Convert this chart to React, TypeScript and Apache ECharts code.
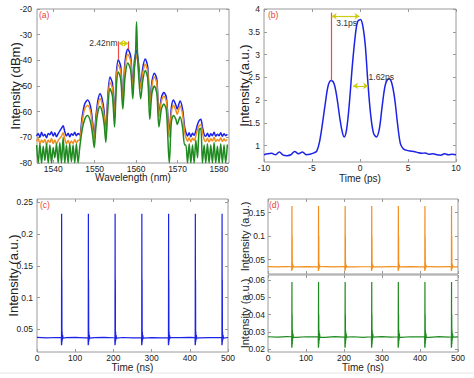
import React, { useEffect, useRef } from 'react';
import * as echarts from 'echarts';

// ---------- Panel (a): optical spectrum ----------
const wlLeft = [1536.0, 1536.4, 1536.8, 1537.2, 1537.6, 1538.0, 1538.4, 1538.8, 1539.2, 1539.6, 1540.0, 1540.4, 1540.8, 1541.2, 1541.6, 1542.0, 1542.4, 1542.8, 1543.2, 1543.6, 1544.0, 1544.4, 1544.8, 1545.2, 1545.6, 1546.0];
const blueLeft = [-69.5, -68.5, -70, -68, -69.5, -68.8, -70.2, -68.5, -69, -67.8, -69.5, -68.2, -69.8, -68.6, -67.5, -66.5, -65.5, -67.8, -69.5, -68.4, -69.8, -68.6, -69.2, -68, -69.4, -68.5];
const orangeLeft = [-71.5, -70.5, -72.5, -71, -72, -70.8, -73, -71, -72, -70.5, -72.4, -71, -72.6, -71.2, -70.4, -69.5, -68.2, -70.6, -72.4, -71.2, -72.6, -71.4, -72.4, -70.8, -72.2, -71.2];
const greenLeft = [-73, -80, -72.5, -80, -73.5, -79, -72.5, -80, -73, -80, -74, -78, -72.5, -80, -72, -80, -70, -80, -73, -80, -72.5, -79.5, -73, -80, -72.5, -80];

const wlMid = [1546.4, 1547.0, 1547.6, 1548.3, 1549.0, 1549.5, 1549.9, 1550.3, 1550.8, 1551.3, 1551.8, 1552.3, 1552.7, 1553.1, 1553.7, 1554.3, 1554.8, 1555.2, 1555.7, 1556.3, 1556.8, 1557.3, 1558.0, 1558.7, 1559.2, 1559.55, 1559.85, 1560.1, 1560.35, 1560.7, 1561.1, 1561.6, 1562.2, 1562.8, 1563.3, 1563.8, 1564.4, 1565.0, 1565.5, 1566.1, 1566.7, 1567.3, 1568.0, 1568.5, 1569.0, 1569.6, 1569.9, 1570.6, 1571.2, 1571.7];
const blueMid = [-69, -62, -57, -55.5, -58, -64, -70, -62, -55.5, -53, -55, -60, -69, -56, -46.5, -49, -62, -46, -39.8, -42.5, -56, -41, -35.6, -38.5, -51, -41, -37.5, -36, -38, -43, -50, -43, -39.5, -42.5, -57, -48.5, -45, -47.5, -61, -54.5, -52.5, -54.5, -68, -58.5, -55.5, -57.5, -59, -55.8, -59, -66];
const orangeMid = [-71, -64, -59, -57.5, -60, -66, -71, -64, -57.5, -55, -57, -62, -70, -58, -48.5, -51, -63, -48, -41.8, -44.5, -57, -43, -37.6, -40.5, -52, -43, -39.5, -38, -40, -45, -51, -45, -41.5, -44.5, -58, -50, -46.5, -49, -62, -56, -54, -56, -70, -60.5, -57.5, -59.5, -61, -57.8, -61, -68];
const greenMid = [-74, -67, -63, -61.5, -64, -69, -74, -66, -60, -58, -60, -65, -72, -61, -51, -54, -66, -51, -44.5, -47.5, -59, -47, -41, -44, -55, -44, -38, -25, -38, -48, -55, -48, -44, -47, -63, -53, -50, -53, -66, -59, -57, -59.5, -80, -64, -61.5, -63, -65, -62, -66, -73];

const wlRight = [1572.0, 1572.4, 1572.8, 1573.2, 1573.6, 1574.0, 1574.4, 1574.8, 1575.2, 1575.6, 1576.0, 1576.4, 1576.8, 1577.2, 1577.6, 1578.0, 1578.4, 1578.8, 1579.2, 1579.6, 1580.0, 1580.4, 1580.8, 1581.2, 1581.6, 1582.0];
const blueRight = [-68, -69.5, -68.2, -69.8, -68.4, -69.2, -67.5, -65, -63.5, -63, -66, -68.8, -69.6, -68.4, -69.8, -68.6, -69.4, -68, -69.6, -68.8, -69.4, -68.2, -69.6, -68.6, -69.4, -68.8];
const orangeRight = [-70, -71.5, -70.2, -71.8, -70.4, -71.2, -69.5, -67, -65.5, -65, -68, -70.8, -71.6, -70.4, -71.8, -70.6, -71.4, -70, -71.6, -70.8, -71.4, -70.2, -71.6, -70.6, -71.4, -70.8];
const greenRight = [-73, -80, -72.5, -80, -73, -80, -71, -78, -67, -66.5, -80, -73, -80, -72.5, -80, -73, -80, -72, -80, -73.5, -80, -72.5, -80, -73, -80, -72.8];

const ticksAx = [1540, 1550, 1560, 1570, 1580];
const ticksAy = [-80, -70, -60, -50, -40, -30, -20];

// ---------- Panel (b): autocorrelation ----------
const tB = [-10, -9.6, -9.2, -8.8, -8.4, -8, -7.6, -7.2, -6.8, -6.4, -6, -5.6, -5.2, -4.8, -4.5, -4.2, -3.9, -3.6, -3.3, -3.0, -2.7, -2.4, -2.1, -1.85, -1.65, -1.4, -1.1, -0.8, -0.5, -0.25, 0.05, 0.3, 0.55, 0.8, 1.1, 1.4, 1.7, 2.0, 2.3, 2.6, 2.85, 3.05, 3.3, 3.6, 3.9, 4.2, 4.5, 4.8, 5.2, 5.6, 6, 6.4, 6.8, 7.2, 7.6, 8, 8.4, 8.8, 9.2, 9.6, 10];
const yB = [0.80, 0.82, 0.83, 0.80, 0.86, 0.79, 0.78, 0.80, 0.87, 0.82, 0.86, 0.80, 0.81, 0.84, 0.88, 1.1, 1.5, 1.95, 2.33, 2.43, 2.36, 2.05, 1.6, 1.3, 1.19, 1.35, 1.95, 2.75, 3.4, 3.72, 3.77, 3.62, 3.2, 2.45, 1.7, 1.28, 1.19, 1.35, 1.85, 2.3, 2.45, 2.47, 2.38, 2.05, 1.5, 1.05, 0.93, 0.9, 0.88, 0.87, 0.85, 0.83, 0.84, 0.81, 0.82, 0.80, 0.79, 0.82, 0.80, 0.81, 0.80];
const ticksBx = [-10, -5, 0, 5, 10];
const ticksBy = [1, 1.5, 2, 2.5, 3, 3.5, 4];

// ---------- Panels (c), (d): pulse trains ----------
const pulseTimesC = [64.5, 134.5, 204.5, 274.5, 344.5, 414.5, 484.5];
const pulseTimesD = [63, 133, 203, 273, 343, 413, 483];
const pulseOffsets = [-0.8, -0.4, 0, 0.3, 0.6, 0.9, 1.3, 1.8, 2.6, 3.6];
const pulseC = [0.037, 0.025, 0.232, 0.026, 0.128, 0.030, 0.046, 0.033, 0.041, 0.036];
const pulseDOrange = [0.035, 0.026, 0.164, 0.028, 0.100, 0.030, 0.043, 0.032, 0.039, 0.035];
const pulseDGreen = [0.0272, 0.0208, 0.0589, 0.0215, 0.040, 0.023, 0.031, 0.025, 0.029, 0.0270];
const baseTimes = [0, 25, 50, 75, 100, 125, 150, 175, 200, 225, 250, 275, 300, 325, 350, 375, 400, 425, 450, 475, 500];
const baseC = [0.0372, 0.0366, 0.0371, 0.0368, 0.0374, 0.0365, 0.0370, 0.0373, 0.0367, 0.0371, 0.0366, 0.0372, 0.0369, 0.0365, 0.0371, 0.0368, 0.0373, 0.0366, 0.0370, 0.0368, 0.0371];
const baseDOrange = [0.0352, 0.0347, 0.0354, 0.0349, 0.0351, 0.0346, 0.0353, 0.0348, 0.0352, 0.0347, 0.0350, 0.0354, 0.0348, 0.0351, 0.0346, 0.0352, 0.0349, 0.0353, 0.0347, 0.0351, 0.0349];
const baseDGreen = [0.0272, 0.0270, 0.0273, 0.0269, 0.0272, 0.0271, 0.0268, 0.0273, 0.0270, 0.0272, 0.0269, 0.0271, 0.0273, 0.0270, 0.0268, 0.0272, 0.0271, 0.0269, 0.0273, 0.0270, 0.0271];
const ticksT = [0, 100, 200, 300, 400, 500];
const ticksCy = [0.05, 0.1, 0.15, 0.2, 0.25];
const ticksD1y = [0.05, 0.1, 0.15];
const ticksD2y = [0.02, 0.03, 0.04, 0.05, 0.06];

const FONT = '"Liberation Sans", Arial, Helvetica, sans-serif';
const FRAME = '#9a9a9a';
const TXT = '#222';
const RED = '#f04a4a';
const YEL = '#cccc10';
const BLUE = '#1c22e6';
const ORANGE = '#f28e1c';
const GREEN = '#1f8a1f';

const plain = (v: number) => String(v);

function pulseTrain(times: number[], shape: number[], base: number[]) {
  const pts: number[][] = [];
  times.forEach((t) => pulseOffsets.forEach((o, i) => pts.push([t + o, shape[i]])));
  baseTimes.forEach((t, i) => {
    if (!times.some((p) => t > p - 1.5 && t < p + 4.5)) pts.push([t, base[i]]);
  });
  pts.sort((a, b) => a[0] - b[0]);
  return pts;
}

const tickStyle = (ticks: number[] | null) => ({ show: true, inside: true, length: 3, ...(ticks ? { customValues: ticks } : {}), lineStyle: { color: FRAME } });

function mainX(gi: number, min: number, max: number, ticks: number[] | null, name: string, nameGap: number, showLabels = true, interval?: number) {
  return {
    type: 'value', gridIndex: gi, min, max, position: 'bottom',
    ...(interval ? { interval } : {}),
    axisLine: { show: false, onZero: false }, splitLine: { show: false },
    axisTick: tickStyle(ticks),
    axisLabel: { show: showLabels, ...(ticks ? { customValues: ticks } : {}), formatter: plain, fontSize: 8.5, color: TXT, margin: 1, fontFamily: FONT, hideOverlap: false, showMinLabel: true, showMaxLabel: true },
    name, nameLocation: 'middle', nameGap, nameMoveOverlap: false,
    nameTextStyle: { fontSize: 10, color: TXT, fontFamily: FONT },
  };
}
function mirrorX(gi: number, min: number, max: number, ticks: number[]) {
  return {
    type: 'value', gridIndex: gi, min, max, position: 'top',
    axisLine: { show: false, onZero: false }, splitLine: { show: false },
    axisTick: tickStyle(ticks),
    axisLabel: { show: false },
  };
}
function mainY(gi: number, min: number, max: number, ticks: number[], name: string, nameGap: number, margin: number, nameSize: number) {
  return {
    type: 'value', gridIndex: gi, min, max, position: 'left',
    axisLine: { show: false, onZero: false }, splitLine: { show: false },
    axisTick: tickStyle(ticks),
    axisLabel: { customValues: ticks, formatter: plain, fontSize: 8.5, color: TXT, margin, fontFamily: FONT },
    name, nameLocation: 'middle', nameGap, nameMoveOverlap: false,
    nameTextStyle: { fontSize: nameSize, color: TXT, fontFamily: FONT },
  };
}
function mirrorY(gi: number, min: number, max: number, ticks: number[]) {
  return {
    type: 'value', gridIndex: gi, min, max, position: 'right',
    axisLine: { show: false, onZero: false }, splitLine: { show: false },
    axisTick: tickStyle(ticks),
    axisLabel: { show: false },
  };
}

function textPoint(coord: number[], text: string) {
  return {
    coord, value: text, symbol: 'rect', symbolSize: 1, itemStyle: { color: 'rgba(0,0,0,0)' },
    label: { show: true, position: 'inside', formatter: text, fontSize: 8.5, color: '#333', fontFamily: FONT },
  };
}

const noLabel = { show: false };
function seg(a: number[], b: number[], color: string, arrows: boolean) {
  const sym = arrows ? { symbol: 'arrow', symbolSize: 5 } : { symbol: 'none' };
  return [
    { coord: a, ...sym, label: noLabel, lineStyle: { color, width: 1.2, type: 'solid' } },
    { coord: b, ...sym, label: noLabel },
  ];
}

function buildOption() {
  const wlA = [...wlLeft, ...wlMid, ...wlRight];
  const blueA = [...blueLeft, ...blueMid, ...blueRight];
  const orangeA = [...orangeLeft, ...orangeMid, ...orangeRight];
  const greenA = [...greenLeft, ...greenMid, ...greenRight];
  const mk = (vals: number[]) => wlA.map((w, i) => [w, vals[i]]);

  const gridBase = { show: true, borderColor: FRAME, borderWidth: 1, backgroundColor: 'transparent', outerBoundsMode: 'none', containLabel: false };
  const grids = [
    { left: 37, top: 9, width: 192, height: 154 },
    { left: 264, top: 9, width: 192, height: 153 },
    { left: 37, top: 199, width: 191, height: 153 },
    { left: 268, top: 199, width: 190, height: 75 },
    { left: 268, top: 275, width: 190, height: 77 },
  ].map((g) => ({ ...gridBase, ...g }));

  const rA = [1536.1, 1582.4];
  const rAy = [-80, -20];
  const rB = [-10, 10];
  const rBy = [0.64, 4];
  const rT = [0, 500];
  const rCy = [0.0143, 0.2552];
  const rD1y = [0.0196, 0.179];
  const rD2y = [0.0184, 0.0629];

  const xAxis = [
    mainX(0, rA[0], rA[1], ticksAx, 'Wavelength (nm)', 9.5),
    mainX(1, rB[0], rB[1], null, 'Time (ps)', 11, true, ticksBx[1] - ticksBx[0]),
    mainX(2, rT[0], rT[1], ticksT, 'Time (ns)', 10),
    mainX(3, rT[0], rT[1], ticksT, '', 10, false),
    mainX(4, rT[0], rT[1], ticksT, 'Time (ns)', 10),
    mirrorX(0, rA[0], rA[1], ticksAx),
    mirrorX(1, rB[0], rB[1], ticksBx),
    mirrorX(2, rT[0], rT[1], ticksT),
    mirrorX(3, rT[0], rT[1], ticksT),
    mirrorX(4, rT[0], rT[1], ticksT),
  ];
  const yAxis = [
    mainY(0, rAy[0], rAy[1], ticksAy, 'Intensity (dBm)', 15, 5, 13),
    mainY(1, rBy[0], rBy[1], ticksBy, 'Intensity (a.u.)', 13, 4, 13),
    mainY(2, rCy[0], rCy[1], ticksCy, 'Intensity (a.u.)', 17, 4, 13),
    mainY(3, rD1y[0], rD1y[1], ticksD1y, 'Intensity (a.u.)', 18, 3, 11),
    mainY(4, rD2y[0], rD2y[1], ticksD2y, 'Intensity (a.u.)', 18, 3, 11),
    mirrorY(0, rAy[0], rAy[1], ticksAy),
    mirrorY(1, rBy[0], rBy[1], ticksBy),
    mirrorY(2, rCy[0], rCy[1], ticksCy),
    mirrorY(3, rD1y[0], rD1y[1], ticksD1y),
    mirrorY(4, rD2y[0], rD2y[1], ticksD2y),
  ];

  const line = (gi: number, data: number[][], color: string, width: number, smooth: number | boolean, extra: any = {}) => ({
    type: 'line', xAxisIndex: gi, yAxisIndex: gi, data, showSymbol: false, symbol: 'none', smooth,
    lineStyle: { color, width }, itemStyle: { color }, silent: true, ...extra,
  });

  const series = [
    line(0, mk(blueA), BLUE, 1.5, 0.3),
    line(0, mk(orangeA), ORANGE, 1.5, 0.3),
    line(0, mk(greenA), GREEN, 1.5, 0.3, {
      markLine: {
        silent: true, symbol: ['none', 'none'], label: noLabel,
        data: [
          seg([1555.7, -39.7], [1555.7, -32.6], RED, false),
          seg([1558.2, -35.7], [1558.2, -32.6], RED, false),
          seg([1555.8, -33.4], [1558.1, -33.4], YEL, true),
        ],
      },
      markPoint: { silent: true, data: [textPoint([1552.1, -33.4], '2.42nm')] },
    }),
    line(1, tB.map((t, i) => [t, yB[i]]), BLUE, 1.5, 0.35, {
      markLine: {
        silent: true, symbol: ['none', 'none'], label: noLabel,
        data: [
          seg([-3.0, 2.43], [-3.0, 3.92], RED, false),
          seg([-2.95, 3.84], [-0.05, 3.84], YEL, true),
          seg([-0.72, 2.31], [0.85, 2.31], YEL, true),
        ],
      },
      markPoint: { silent: true, data: [textPoint([-1.39, 3.69], '3.1ps'), textPoint([2.22, 2.5], '1.62ps')] },
    }),
    line(2, pulseTrain(pulseTimesC, pulseC, baseC), BLUE, 1.2, false),
    line(3, pulseTrain(pulseTimesD, pulseDOrange, baseDOrange), ORANGE, 1.2, false),
    line(4, pulseTrain(pulseTimesD, pulseDGreen, baseDGreen), GREEN, 1.2, false),
  ];

  const panelLabel = (x: number, y: number, t: string) => ({
    type: 'text', x, y, silent: true,
    style: { text: t, fill: '#e8423a', font: `8.5px ${FONT}`, textVerticalAlign: 'middle', verticalAlign: 'middle' },
  });

  return {
    animation: false,
    backgroundColor: '#ffffff',
    textStyle: { fontFamily: FONT },
    grid: grids,
    xAxis, yAxis, series,
    graphic: [
      panelLabel(39, 15, '(a)'),
      panelLabel(268, 15, '(b)'),
      panelLabel(40, 205, '(c)'),
      panelLabel(269, 205, '(d)'),
      { type: 'line', silent: true, shape: { x1: 0, y1: 373, x2: 474, y2: 373 }, style: { stroke: '#e6e6e6', lineWidth: 1 } },
    ],
  };
}

export default function App() {
  const ref = useRef<HTMLDivElement>(null);
  useEffect(() => {
    document.body.style.margin = '0';
    const chart = echarts.init(ref.current as HTMLDivElement, null, { renderer: 'svg' });
    chart.setOption(buildOption() as any);
    return () => chart.dispose();
  }, []);
  return <div ref={ref} style={{ width: 474, height: 378, background: '#fff' }} />;
}
